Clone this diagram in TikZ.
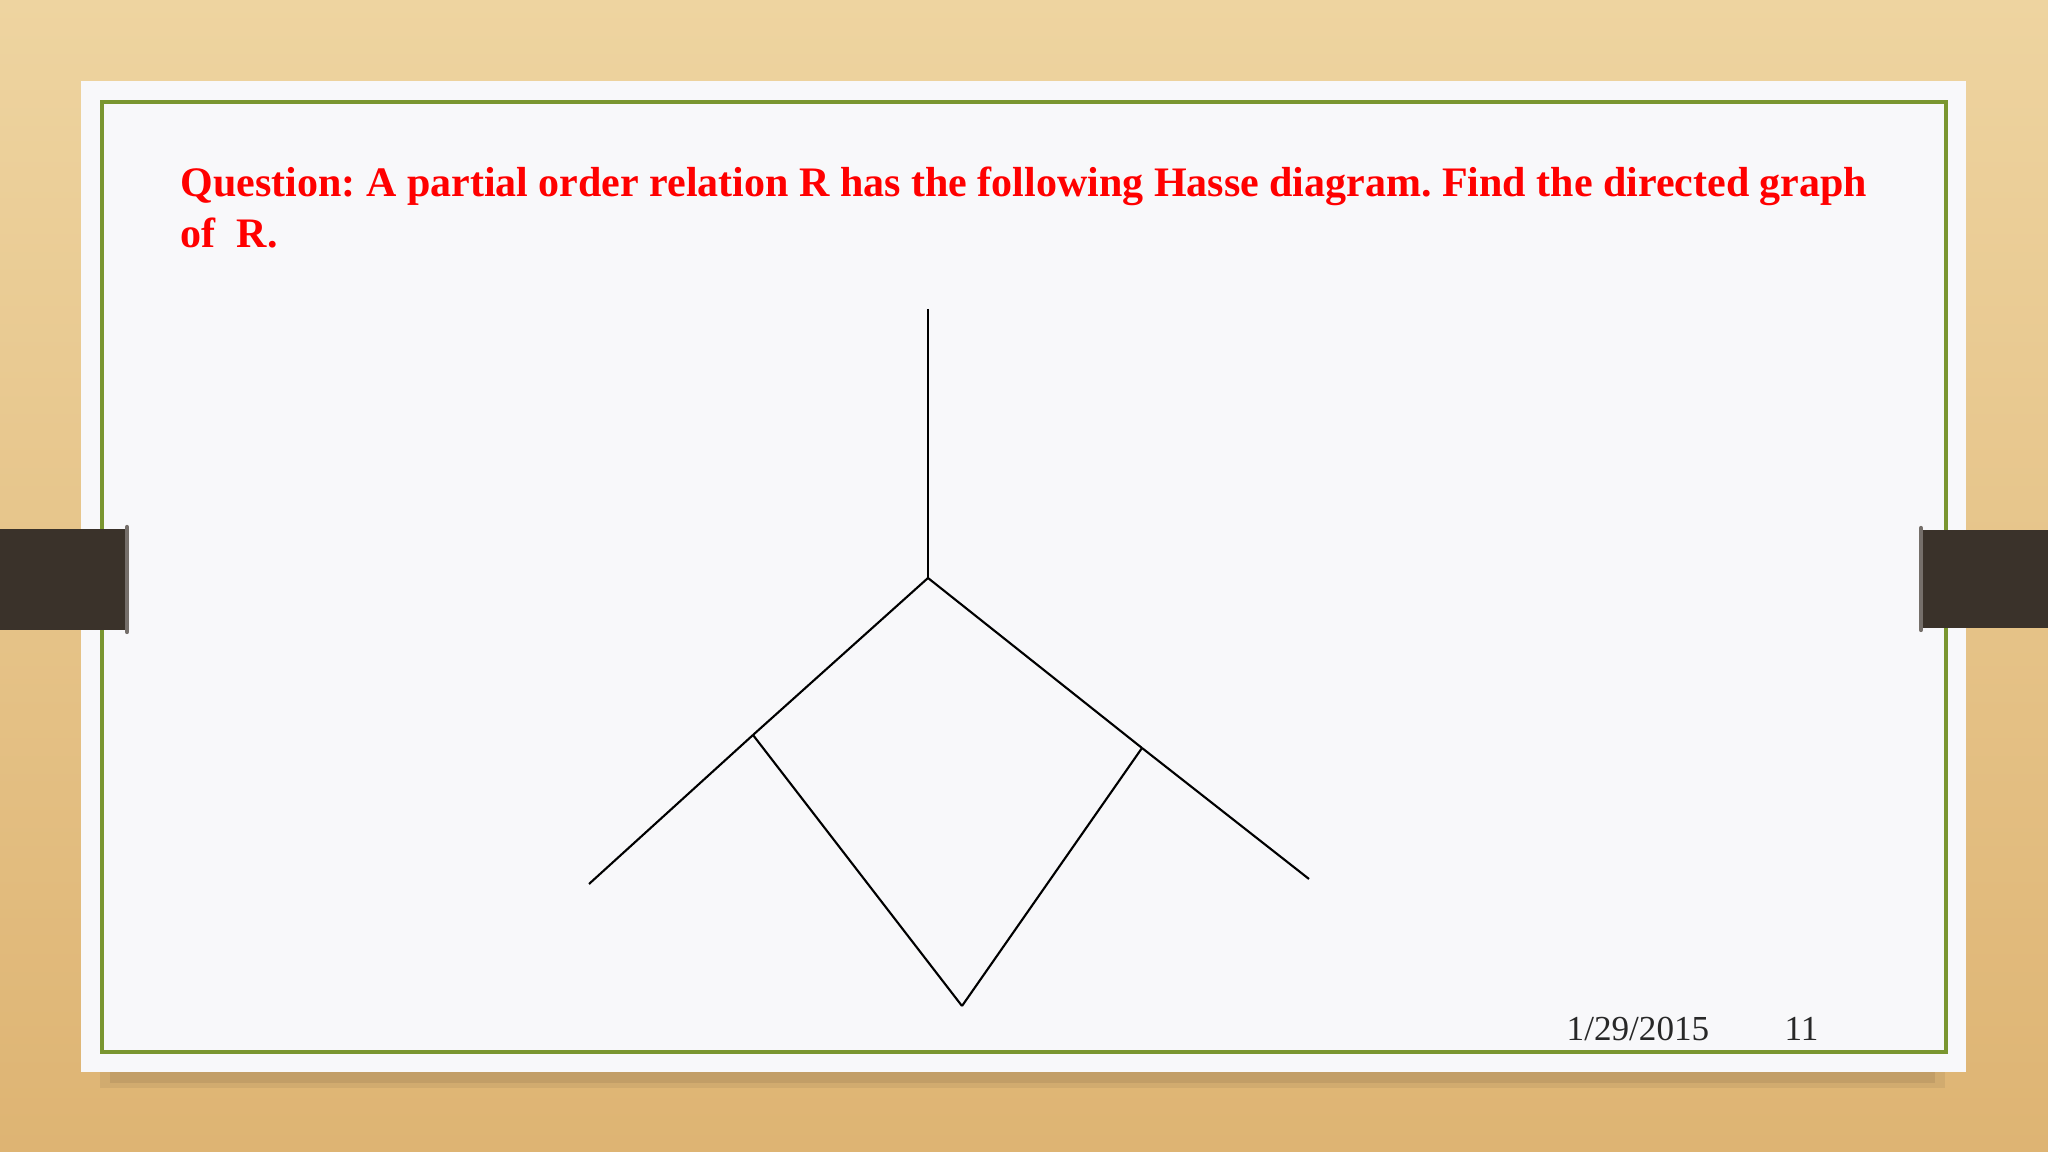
\documentclass[tikz,border=0pt]{standalone}
\usepackage{fontspec}
\setmainfont{Liberation Serif}
\usepackage{xcolor}
\usepackage{tikz}
\definecolor{woodlight}{RGB}{238,212,160}
\definecolor{wooddark}{RGB}{222,180,115}
\definecolor{cardwhite}{RGB}{248,248,250}
\definecolor{framegreen}{RGB}{122,150,48}
\definecolor{tabbrown}{RGB}{58,50,42}
\definecolor{titlered}{RGB}{255,0,0}
\definecolor{footgray}{RGB}{40,40,40}
\tikzstyle{title} = [anchor=base west, inner sep=0pt, text=titlered, font=\fontsize{11.95}{14}\selectfont\bfseries\frenchspacing]
\tikzstyle{footer} = [anchor=base west, inner sep=0pt, text=footgray, font=\fontsize{10}{12}\selectfont]
\tikzstyle{tab} = [fill=tabbrown, draw=none]
\tikzstyle{edge} = [line width=0.6pt, black]

\begin{document}
\begin{tikzpicture}
    \useasboundingbox (0,0) rectangle (20.48,11.52);
    % background and card
    \shade[top color=woodlight, bottom color=wooddark] (0,0) rectangle (20.48,11.52);
    \fill[black, opacity=0.06] (1.0,0.64) rectangle (19.45,0.80);
    \fill[black, opacity=0.07] (1.1,0.69) rectangle (19.35,0.80);
    \fill[cardwhite] (0.81,0.80) rectangle (19.66,10.71);
    \draw[framegreen, line width=0.9pt] (1.02,1.00) rectangle (19.46,10.50);
    \fill[tab] (0,5.22) rectangle (1.27,6.23);
    \fill[tab] (19.21,5.24) rectangle (20.48,6.22);
    \draw[tabbrown!70!white, line width=1.2pt, line cap=round] (1.27,5.20) -- (1.27,6.25);
    \draw[tabbrown!70!white, line width=1.2pt, line cap=round] (19.21,5.22) -- (19.21,6.24);
    % question text
    \node (q1) [title] at (1.80,9.55) {Question: A partial order relation R has the following Hasse diagram. Find the directed graph};
    \node (q2) [title] at (1.80,9.04) {of\ \ R.};
    % Hasse diagram
    \coordinate (top) at (9.28,8.43);
    \coordinate (mid) at (9.28,5.74);
    \coordinate (lmid) at (7.53,4.17);
    \coordinate (lend) at (5.89,2.68);
    \coordinate (rmid) at (11.42,4.04);
    \coordinate (rend) at (13.09,2.73);
    \coordinate (bot) at (9.62,1.46);
    \draw [edge] (top) -- (mid);
    \draw [edge] (mid) -- (lmid);
    \draw [edge] (lmid) -- (lend);
    \draw [edge] (mid) -- (rmid);
    \draw [edge] (rmid) -- (rend);
    \draw [edge] (lmid) -- (bot);
    \draw [edge] (bot) -- (rmid);
    % footer
    \node (date) [footer] at (15.66,1.11) {1/29/2015};
    \node (page) [footer] at (17.84,1.11) {11};
\end{tikzpicture}
\end{document}
